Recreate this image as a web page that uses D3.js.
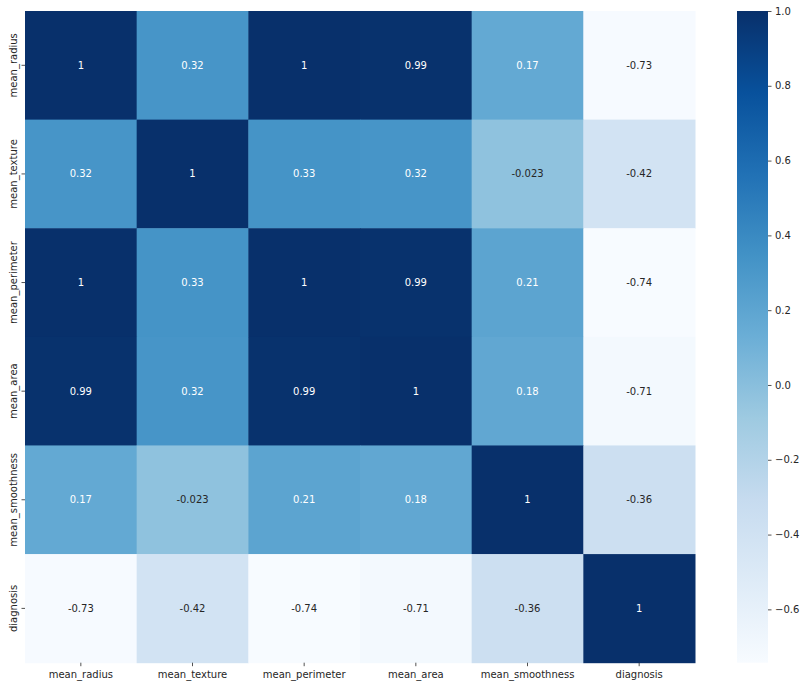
<!DOCTYPE html>
<html><head><meta charset="utf-8">
<script src="https://cdn.jsdelivr.net/npm/d3@7"></script>
<style>body{margin:0;background:#fff;} text{font-family:"DejaVu Sans",sans-serif;}</style>
</head><body><svg id="c" width="807" height="688"></svg>
<script>
const labels = ["mean_radius","mean_texture","mean_perimeter","mean_area","mean_smoothness","diagnosis"];
const annot = [
  ["1","0.32","1","0.99","0.17","-0.73"],
  ["0.32","1","0.33","0.32","-0.023","-0.42"],
  ["1","0.33","1","0.99","0.21","-0.74"],
  ["0.99","0.32","0.99","1","0.18","-0.71"],
  ["0.17","-0.023","0.21","0.18","1","-0.36"],
  ["-0.73","-0.42","-0.74","-0.71","-0.36","1"]
];
const values = annot.map(r => r.map(Number));
const vmin = -0.7426, vmax = 1.0;
const cbTicks = [1.0,0.8,0.6,0.4,0.2,0.0,-0.2,-0.4,-0.6];
const blues = ["#f7fbff","#deebf7","#c6dbef","#9ecae1","#6baed6","#4292c6","#2171b5","#08519c","#08306b"];

const svg = d3.select("#c");
const L=25,R=695,T=11,B=662.7;
const x = d3.scaleBand().domain(labels).range([L,R]);
const y = d3.scaleBand().domain(labels).range([T,B]);
const cmap = d3.scaleLinear().domain(d3.range(9).map(i=>vmin+(vmax-vmin)*i/8)).range(blues).clamp(true);
function lum(c){const r=d3.rgb(c);const f=v=>{v/=255;return v<=0.03928?v/12.92:Math.pow((v+0.055)/1.055,2.4);};return 0.2126*f(r.r)+0.7152*f(r.g)+0.0722*f(r.b);}

const cells=[];
labels.forEach((rl,i)=>labels.forEach((cl,j)=>cells.push({r:rl,c:cl,v:values[i][j],t:annot[i][j]})));
svg.append("g").selectAll("rect").data(cells).join("rect")
  .attr("x",d=>x(d.c)).attr("y",d=>y(d.r)).attr("width",x.bandwidth()+0.5).attr("height",y.bandwidth()+0.5)
  .attr("fill",d=>cmap(d.v));
svg.append("g").selectAll("text").data(cells).join("text")
  .attr("x",d=>x(d.c)+x.bandwidth()/2).attr("y",d=>y(d.r)+y.bandwidth()/2)
  .attr("dy","0.35em").attr("text-anchor","middle").attr("font-size",10)
  .attr("fill",d=>lum(cmap(d.v))>0.408?"#262626":"#ffffff").text(d=>d.t);

// x axis
const xa = svg.append("g").attr("transform",`translate(0,${B})`)
  .call(d3.axisBottom(x).tickSize(3.5).tickPadding(5));
xa.select(".domain").remove();
xa.selectAll("text").attr("font-size",10).attr("fill","#262626").attr("font-family","DejaVu Sans");
xa.selectAll("line").attr("stroke","#262626").attr("stroke-width",0.8);
// y axis
const ya = svg.append("g").attr("transform",`translate(${L},0)`)
  .call(d3.axisLeft(y).tickSize(3.5).tickPadding(3.5));
ya.select(".domain").remove();
ya.selectAll("line").attr("stroke","#262626").attr("stroke-width",0.8);
ya.selectAll("text").attr("font-size",10).attr("fill","#262626").attr("font-family","DejaVu Sans")
  .attr("text-anchor","middle").attr("dy",null).attr("x",null)
  .attr("transform","translate(-8.5,0) rotate(-90)");

// colorbar
const cbL=737,cbW=31;
const cy = d3.scaleLinear().domain([vmin,vmax]).range([B,T]);
const defs=svg.append("defs");
const grad=defs.append("linearGradient").attr("id","g").attr("x1",0).attr("y1",1).attr("x2",0).attr("y2",0);
blues.forEach((c,i)=>grad.append("stop").attr("offset",i/8).attr("stop-color",c));
svg.append("rect").attr("x",cbL).attr("y",T).attr("width",cbW).attr("height",B-T).attr("fill","url(#g)");
const ca = svg.append("g").attr("transform",`translate(${cbL+cbW},0)`)
  .call(d3.axisRight(cy).tickValues(cbTicks).tickSize(3.5).tickPadding(3.5).tickFormat(d=>d3.format(".1f")(d).replace("-","\u2212")));
ca.select(".domain").remove();
ca.selectAll("line").attr("stroke","#262626").attr("stroke-width",0.8);
ca.selectAll("text").attr("font-size",10).attr("fill","#262626").attr("font-family","DejaVu Sans");
</script></body></html>
